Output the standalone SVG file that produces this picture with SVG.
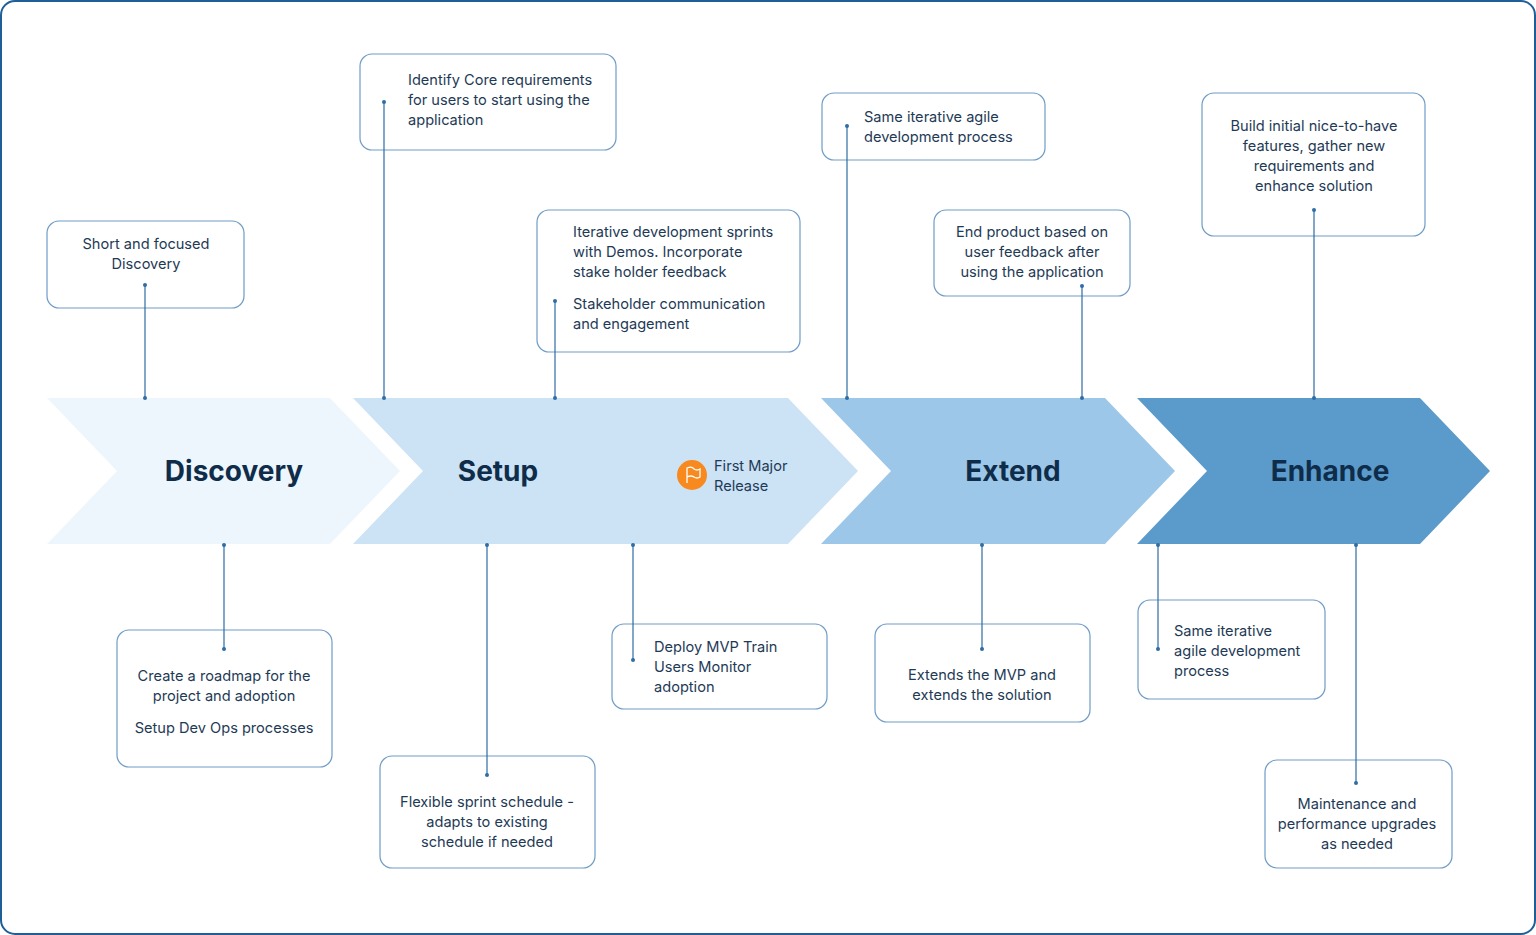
<svg xmlns="http://www.w3.org/2000/svg" width="1536" height="935" viewBox="0 0 1536 935">
<style>
.box{fill:#fff;stroke:#6F9CC6;stroke-width:1.2}
.t{font-family:Inter,"Noto Sans",sans-serif;font-size:14.6px;fill:#1E3A56}
.c{text-anchor:middle}
.h{font-family:Inter,"Noto Sans",sans-serif;font-size:28px;font-weight:700;fill:#0F2D4A;text-anchor:middle}
.ln{stroke:#2F6DA4;stroke-width:1.2;fill:none}
.d{fill:#2F6DA4}
</style>
<rect x="1" y="1" width="1534" height="933" rx="14" fill="#fff" stroke="#1F5E96" stroke-width="2"/>
<g id="chevrons">
<polygon points="47,398 330,398 400,471 330,544 47,544 117,471" fill="#EEF6FD"/>
<polygon points="353,398 788,398 858,471 788,544 353,544 423,471" fill="#CCE2F5"/>
<polygon points="821,398 1105,398 1175,471 1105,544 821,544 891,471" fill="#9DC7E8"/>
<polygon points="1137,398 1420,398 1490,471 1420,544 1137,544 1207,471" fill="#5B9BCB"/>
<text class="h" x="234" y="481">Discovery</text>
<text class="h" x="498" y="481">Setup</text>
<text class="h" x="1013" y="481">Extend</text>
<text class="h" x="1330" y="481">Enhance</text>
</g>
<g id="release">
<circle cx="692" cy="475" r="15" fill="#F7891F"/>
<path d="M687,483 V468 Q692,466 694,469 Q697,471 700,469 V477 Q697,479 694,477 Q691,475 687,477" fill="none" stroke="#fff" stroke-width="1.3"/>
<text class="t" x="714" y="471">First Major</text>
<text class="t" x="714" y="491">Release</text>
</g>
<g id="n1"><rect class="box" x="47" y="221" width="197" height="87" rx="12"/>
<text class="t c" x="146" y="249">Short and focused</text><text class="t c" x="146" y="269">Discovery</text></g>
<g id="n2"><rect class="box" x="360" y="54" width="256" height="96" rx="12"/>
<text class="t" x="408" y="85">Identify Core requirements</text><text class="t" x="408" y="105">for users to start using the</text><text class="t" x="408" y="125">application</text></g>
<g id="n3"><rect class="box" x="537" y="210" width="263" height="142" rx="12"/>
<text class="t" x="573" y="237">Iterative development sprints</text><text class="t" x="573" y="257">with Demos. Incorporate</text><text class="t" x="573" y="277">stake holder feedback</text>
<text class="t" x="573" y="309">Stakeholder communication</text><text class="t" x="573" y="329">and engagement</text></g>
<g id="n4"><rect class="box" x="822" y="93" width="223" height="67" rx="12"/>
<text class="t" x="864" y="122">Same iterative agile</text><text class="t" x="864" y="142">development process</text></g>
<g id="n5"><rect class="box" x="934" y="210" width="196" height="86" rx="12"/>
<text class="t c" x="1032" y="237">End product based on</text><text class="t c" x="1032" y="257">user feedback after</text><text class="t c" x="1032" y="277">using the application</text></g>
<g id="n6"><rect class="box" x="1202" y="93" width="223" height="143" rx="12"/>
<text class="t c" x="1314" y="131">Build initial nice-to-have</text><text class="t c" x="1314" y="151">features, gather new</text><text class="t c" x="1314" y="171">requirements and</text><text class="t c" x="1314" y="191">enhance solution</text></g>
<g id="n7"><rect class="box" x="117" y="630" width="215" height="137" rx="12"/>
<text class="t c" x="224" y="681">Create a roadmap for the</text><text class="t c" x="224" y="701">project  and adoption</text><text class="t c" x="224" y="733">Setup Dev Ops processes</text></g>
<g id="n8"><rect class="box" x="380" y="756" width="215" height="112" rx="12"/>
<text class="t c" x="487" y="807">Flexible sprint schedule -</text><text class="t c" x="487" y="827">adapts to existing</text><text class="t c" x="487" y="847">schedule if needed</text></g>
<g id="n9"><rect class="box" x="612" y="624" width="215" height="85" rx="12"/>
<text class="t" x="654" y="652">Deploy MVP Train</text><text class="t" x="654" y="672">Users Monitor</text><text class="t" x="654" y="692">adoption</text></g>
<g id="n10"><rect class="box" x="875" y="624" width="215" height="98" rx="12"/>
<text class="t c" x="982" y="680">Extends the MVP and</text><text class="t c" x="982" y="700">extends the solution</text></g>
<g id="n11"><rect class="box" x="1138" y="600" width="187" height="99" rx="12"/>
<text class="t" x="1174" y="636">Same iterative</text><text class="t" x="1174" y="656">agile development</text><text class="t" x="1174" y="676">process</text></g>
<g id="n12"><rect class="box" x="1265" y="760" width="187" height="108" rx="12"/>
<text class="t c" x="1357" y="809">Maintenance and</text><text class="t c" x="1357" y="829">performance upgrades</text><text class="t c" x="1357" y="849">as needed</text></g>
<g id="connectors">
<path class="ln" d="M145,285V398M384,102V398M555,301V398M847,126V398M1082,286V398M1314,210V398M224,545V649M487,545V775M633,545V660M982,545V649M1158,545V649M1356,545V783"/>
<g class="d">
<circle cx="145" cy="285" r="2"/><circle cx="145" cy="398" r="2"/>
<circle cx="384" cy="102" r="2"/><circle cx="384" cy="398" r="2"/>
<circle cx="555" cy="301" r="2"/><circle cx="555" cy="398" r="2"/>
<circle cx="847" cy="126" r="2"/><circle cx="847" cy="398" r="2"/>
<circle cx="1082" cy="286" r="2"/><circle cx="1082" cy="398" r="2"/>
<circle cx="1314" cy="210" r="2"/><circle cx="1314" cy="398" r="2"/>
<circle cx="224" cy="545" r="2"/><circle cx="224" cy="649" r="2"/>
<circle cx="487" cy="545" r="2"/><circle cx="487" cy="775" r="2"/>
<circle cx="633" cy="545" r="2"/><circle cx="633" cy="660" r="2"/>
<circle cx="982" cy="545" r="2"/><circle cx="982" cy="649" r="2"/>
<circle cx="1158" cy="545" r="2"/><circle cx="1158" cy="649" r="2"/>
<circle cx="1356" cy="545" r="2"/><circle cx="1356" cy="783" r="2"/>
</g>
</g>
</svg>
